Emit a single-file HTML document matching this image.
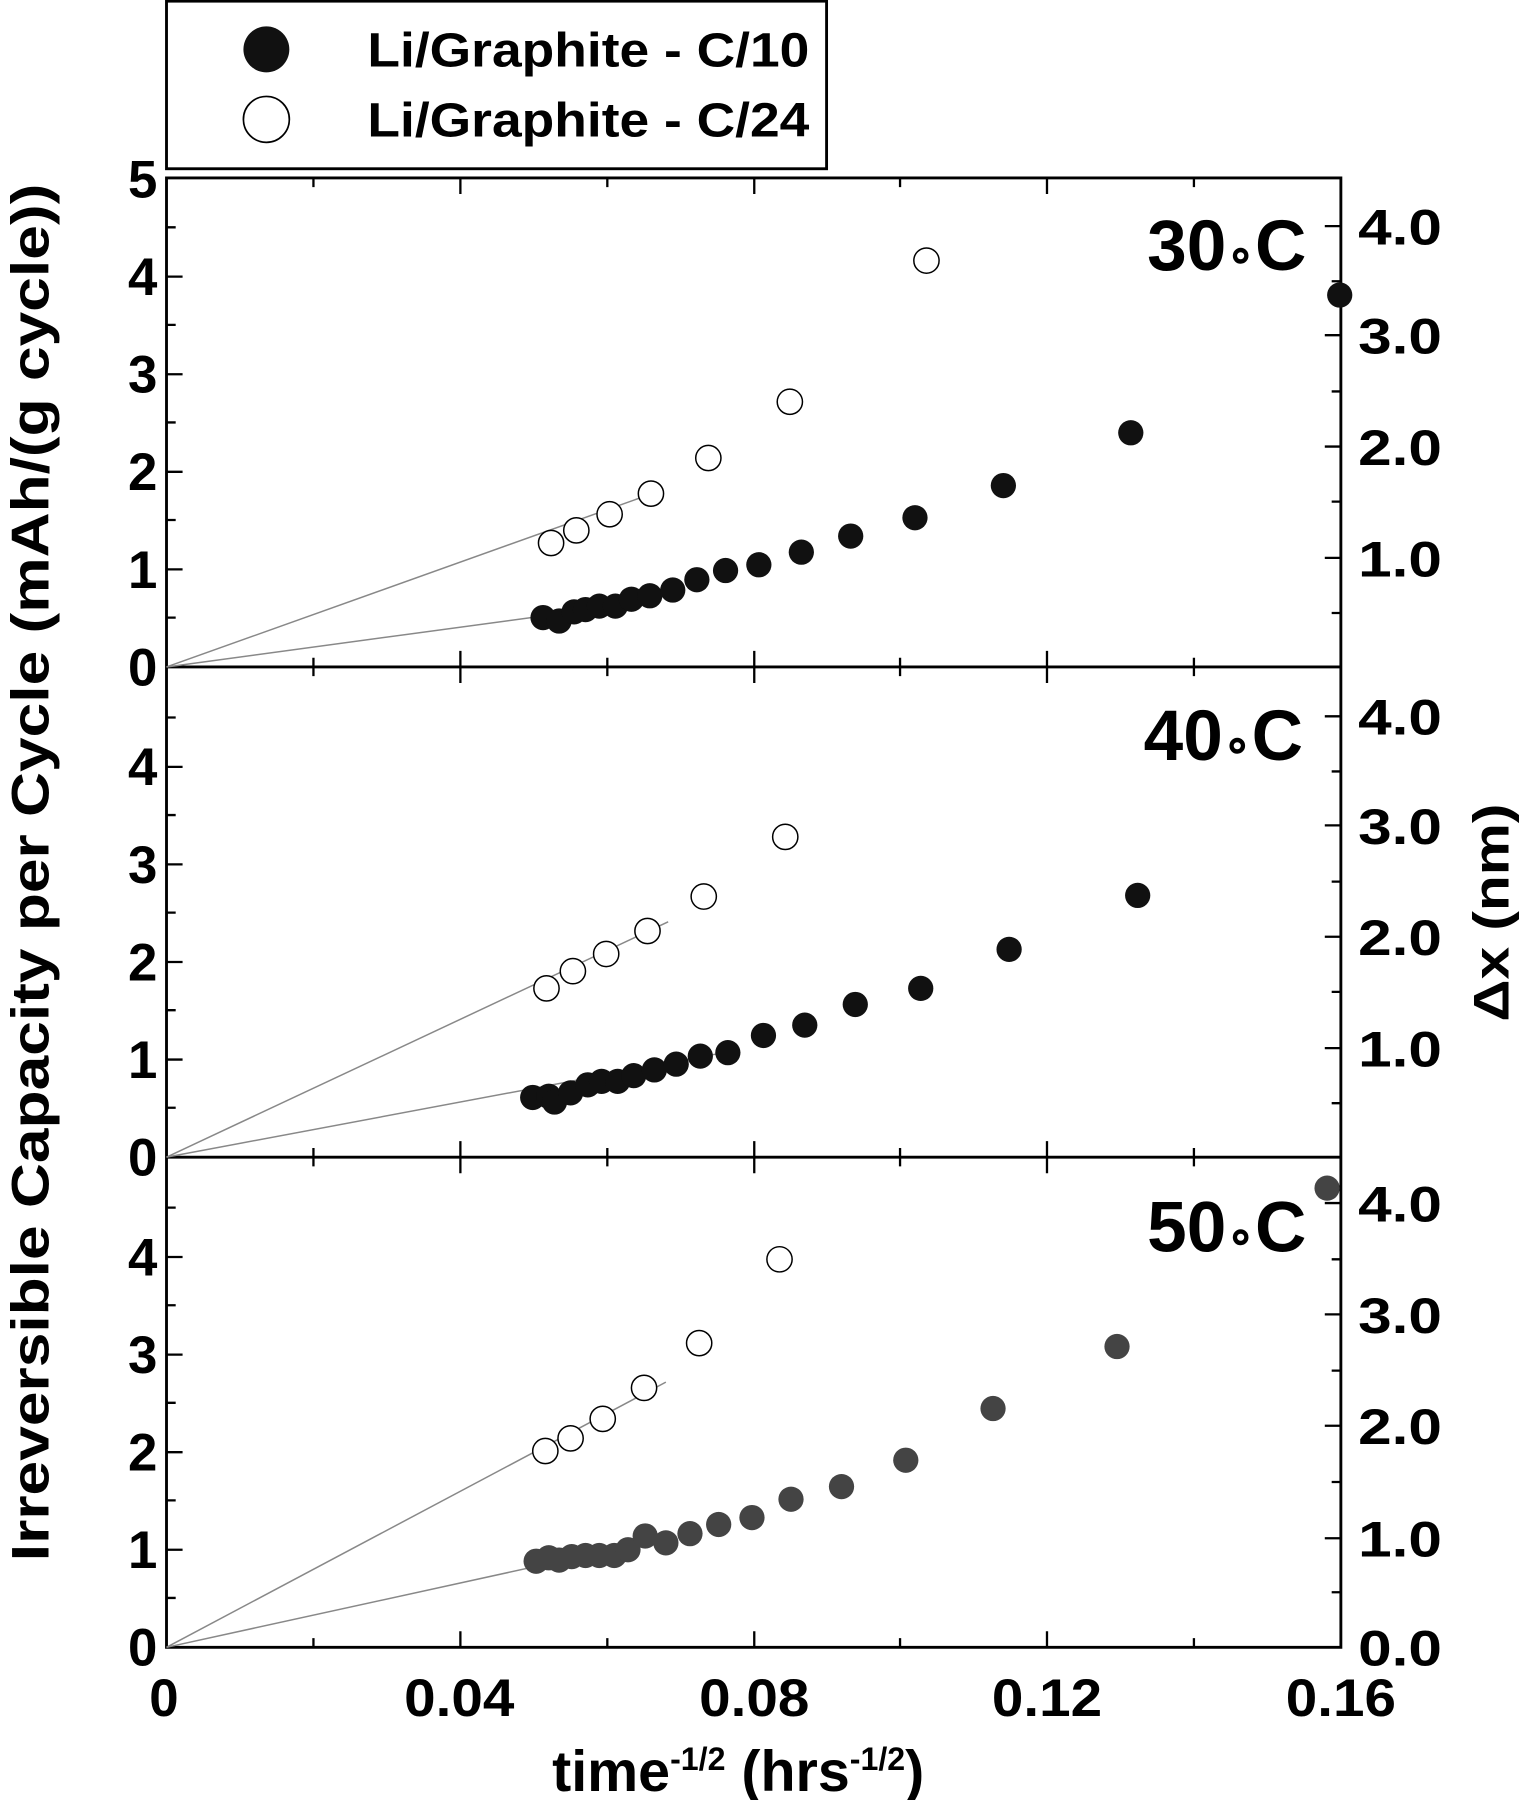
<!DOCTYPE html>
<html><head><meta charset="utf-8"><style>
html,body{margin:0;padding:0;background:#fff;}
svg{display:block;}
text{font-family:"Liberation Sans",Arial,sans-serif;font-weight:bold;fill:#000;}
</style></head><body>
<svg width="1520" height="1800" viewBox="0 0 1324 1568" xmlns="http://www.w3.org/2000/svg">
<rect width="1324" height="1568" fill="#fff"/>
<!-- legend -->
<rect x="145" y="1" width="575" height="146" fill="none" stroke="#000" stroke-width="2.5"/>
<circle cx="232" cy="43" r="20" fill="#111"/>
<circle cx="232" cy="104" r="20" fill="#fff" stroke="#000" stroke-width="1.5"/>
<text x="320" y="58" font-size="42" textLength="385" lengthAdjust="spacingAndGlyphs">Li/Graphite - C/10</text>
<text x="320" y="119" font-size="42" textLength="385" lengthAdjust="spacingAndGlyphs">Li/Graphite - C/24</text>
<!-- frames -->
<g fill="none" stroke="#000" stroke-width="2.5">
<rect x="145" y="155" width="1023" height="1280"/>
<line x1="145" y1="581" x2="1168" y2="581"/>
<line x1="145" y1="1008" x2="1168" y2="1008"/>
</g>
<g stroke="#000" stroke-width="2">
<path d="M273 1435v-8M401 1435v-14M529 1435v-8M657 1435v-14M784 1435v-8M912 1435v-14M1040 1435v-8
M273 155v8M401 155v14M529 155v8M657 155v14M784 155v8M912 155v14M1040 155v8
M273 573v16M401 567v28M529 573v16M657 567v28M784 573v16M912 567v28M1040 573v16
M273 1000v16M401 994v28M529 1000v16M657 994v28M784 1000v16M912 994v28M1040 1000v16"/>
<path d="M145 538h8M145 496h14M145 453h8M145 411h14M145 368h8M145 326h14M145 283h8M145 241h14M145 198h8
M145 965h8M145 923h14M145 880h8M145 838h14M145 795h8M145 753h14M145 710h8M145 668h14M145 625h8
M145 1392h8M145 1350h14M145 1307h8M145 1265h14M145 1222h8M145 1180h14M145 1137h8M145 1095h14M145 1052h8"/>
<path d="M1168 534h-8M1168 486h-14M1168 437h-8M1168 389h-14M1168 341h-8M1168 292h-14M1168 245h-8M1168 197h-14
M1168 961h-8M1168 913h-14M1168 864h-8M1168 816h-14M1168 768h-8M1168 719h-14M1168 672h-8M1168 624h-14
M1168 1387h-8M1168 1340h-14M1168 1291h-8M1168 1242h-14M1168 1194h-8M1168 1145h-14M1168 1097h-8M1168 1048h-14"/>
</g>
<g font-size="46" text-anchor="end">
<text x="137" y="172">5</text><text x="137" y="257">4</text><text x="137" y="342">3</text><text x="137" y="427">2</text><text x="137" y="512">1</text><text x="137" y="597">0</text>
<text x="137" y="684">4</text><text x="137" y="769">3</text><text x="137" y="854">2</text><text x="137" y="939">1</text><text x="137" y="1024">0</text>
<text x="137" y="1111">4</text><text x="137" y="1196">3</text><text x="137" y="1281">2</text><text x="137" y="1366">1</text><text x="137" y="1451">0</text>
</g>
<g font-size="44">
<text x="1183" y="213" textLength="73" lengthAdjust="spacingAndGlyphs">4.0</text><text x="1183" y="308" textLength="73" lengthAdjust="spacingAndGlyphs">3.0</text><text x="1183" y="405" textLength="73" lengthAdjust="spacingAndGlyphs">2.0</text><text x="1183" y="502" textLength="73" lengthAdjust="spacingAndGlyphs">1.0</text>
<text x="1183" y="640" textLength="73" lengthAdjust="spacingAndGlyphs">4.0</text><text x="1183" y="735" textLength="73" lengthAdjust="spacingAndGlyphs">3.0</text><text x="1183" y="832" textLength="73" lengthAdjust="spacingAndGlyphs">2.0</text><text x="1183" y="929" textLength="73" lengthAdjust="spacingAndGlyphs">1.0</text>
<text x="1183" y="1064" textLength="73" lengthAdjust="spacingAndGlyphs">4.0</text><text x="1183" y="1161" textLength="73" lengthAdjust="spacingAndGlyphs">3.0</text><text x="1183" y="1258" textLength="73" lengthAdjust="spacingAndGlyphs">2.0</text><text x="1183" y="1356" textLength="73" lengthAdjust="spacingAndGlyphs">1.0</text><text x="1183" y="1451" textLength="73" lengthAdjust="spacingAndGlyphs">0.0</text>
</g>
<g font-size="46">
<text x="130" y="1495">0</text>
<text x="352" y="1495" textLength="96" lengthAdjust="spacingAndGlyphs">0.04</text>
<text x="609" y="1495" textLength="96" lengthAdjust="spacingAndGlyphs">0.08</text>
<text x="864" y="1495" textLength="96" lengthAdjust="spacingAndGlyphs">0.12</text>
<text x="1120" y="1495" textLength="96" lengthAdjust="spacingAndGlyphs">0.16</text>
</g>
<text x="643" y="1560" font-size="50" text-anchor="middle">time<tspan font-size="28" dy="-18">-1/2</tspan><tspan dy="18"> (hrs</tspan><tspan font-size="28" dy="-18">-1/2</tspan><tspan dy="18">)</tspan></text>
<text transform="translate(42,760) rotate(-90)" font-size="46" text-anchor="middle" textLength="1200" lengthAdjust="spacingAndGlyphs">Irreversible Capacity per Cycle (mAh/(g cycle))</text>
<text transform="translate(1314,795) rotate(-90)" font-size="44" text-anchor="middle" textLength="190" lengthAdjust="spacingAndGlyphs">Δx (nm)</text>
<g font-size="62" text-anchor="end">
<text x="1138" y="235">30<tspan font-size="40">∘</tspan>C</text>
<text x="1135" y="662">40<tspan font-size="40">∘</tspan>C</text>
<text x="1138" y="1090">50<tspan font-size="40">∘</tspan>C</text>
</g>
<g stroke="#888" stroke-width="1.3">
<line x1="145" y1="581" x2="566" y2="524"/><line x1="145" y1="581" x2="568" y2="430"/>
<line x1="145" y1="1008" x2="625" y2="918"/><line x1="145" y1="1008" x2="582" y2="803"/>
<line x1="145" y1="1435" x2="565" y2="1343"/><line x1="145" y1="1435" x2="580" y2="1204"/>
</g>
<g fill="#111">
<circle cx="473" cy="538" r="11"/><circle cx="487" cy="541" r="11"/><circle cx="500" cy="533" r="11"/><circle cx="510" cy="531" r="11"/><circle cx="522" cy="528" r="11"/><circle cx="536" cy="528" r="11"/><circle cx="550" cy="522" r="11"/><circle cx="566" cy="519" r="11"/><circle cx="586" cy="514" r="11"/><circle cx="607" cy="505" r="11"/><circle cx="632" cy="497" r="11"/><circle cx="661" cy="492" r="11"/><circle cx="698" cy="481" r="11"/><circle cx="741" cy="467" r="11"/><circle cx="797" cy="451" r="11"/><circle cx="874" cy="423" r="11"/><circle cx="985" cy="377" r="11"/><circle cx="1167" cy="257" r="11"/>
</g>
<g fill="#fff" stroke="#000" stroke-width="1.3">
<circle cx="480" cy="473" r="11"/><circle cx="502" cy="462" r="11"/><circle cx="531" cy="448" r="11"/><circle cx="567" cy="430" r="11"/><circle cx="617" cy="399" r="11"/><circle cx="688" cy="350" r="11"/><circle cx="807" cy="227" r="11"/>
</g>
<g fill="#111">
<circle cx="464" cy="956" r="11"/><circle cx="478" cy="955" r="11"/><circle cx="483" cy="960" r="11"/><circle cx="497" cy="952" r="11"/><circle cx="512" cy="945" r="11"/><circle cx="524" cy="942" r="11"/><circle cx="538" cy="942" r="11"/><circle cx="552" cy="937" r="11"/><circle cx="570" cy="932" r="11"/><circle cx="589" cy="927" r="11"/><circle cx="610" cy="920" r="11"/><circle cx="634" cy="917" r="11"/><circle cx="665" cy="902" r="11"/><circle cx="701" cy="893" r="11"/><circle cx="745" cy="875" r="11"/><circle cx="802" cy="861" r="11"/><circle cx="879" cy="827" r="11"/><circle cx="991" cy="780" r="11"/>
</g>
<g fill="#fff" stroke="#000" stroke-width="1.3">
<circle cx="476" cy="861" r="11"/><circle cx="499" cy="846" r="11"/><circle cx="528" cy="831" r="11"/><circle cx="564" cy="811" r="11"/><circle cx="613" cy="781" r="11"/><circle cx="684" cy="729" r="11"/>
</g>
<g fill="#444">
<circle cx="467" cy="1360" r="11"/><circle cx="478" cy="1357" r="11"/><circle cx="487" cy="1359" r="11"/><circle cx="498" cy="1356" r="11"/><circle cx="510" cy="1355" r="11"/><circle cx="522" cy="1355" r="11"/><circle cx="535" cy="1355" r="11"/><circle cx="547" cy="1350" r="11"/><circle cx="562" cy="1338" r="11"/><circle cx="580" cy="1344" r="11"/><circle cx="601" cy="1336" r="11"/><circle cx="626" cy="1328" r="11"/><circle cx="655" cy="1322" r="11"/><circle cx="689" cy="1306" r="11"/><circle cx="733" cy="1295" r="11"/><circle cx="789" cy="1272" r="11"/><circle cx="865" cy="1227" r="11"/><circle cx="973" cy="1173" r="11"/><circle cx="1156" cy="1035" r="11"/>
</g>
<g fill="#fff" stroke="#000" stroke-width="1.3">
<circle cx="475" cy="1264" r="11"/><circle cx="497" cy="1253" r="11"/><circle cx="525" cy="1236" r="11"/><circle cx="561" cy="1209" r="11"/><circle cx="609" cy="1170" r="11"/><circle cx="679" cy="1097" r="11"/>
</g>
</svg>
</body></html>
